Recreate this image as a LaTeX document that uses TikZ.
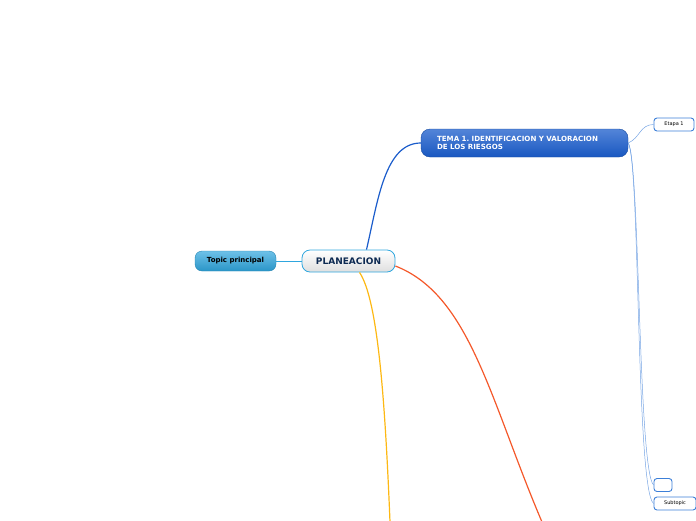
\documentclass[tikz,border=0pt]{standalone}
\usepackage{fontspec}
\setmainfont{DejaVu Sans}
\frenchspacing
\definecolor{mainblue}{HTML}{1A5CCB}
\definecolor{lightblue}{HTML}{2FA6DE}
\definecolor{edgeblue}{HTML}{3C7FD8}
\definecolor{orangeline}{HTML}{F4582A}
\definecolor{yellowline}{HTML}{FDB813}
\definecolor{navytext}{HTML}{0D2A52}
\tikzset{
  centralbox/.style={draw=lightblue, line width=0.8pt, rounded corners=8pt, top color=white, bottom color=gray!25,
    minimum width=93pt, minimum height=22pt, font=\fontsize{9}{10}\selectfont\bfseries, text=navytext},
  mainbox/.style={draw=lightblue!80!black, rounded corners=7pt, top color=lightblue!70, bottom color=lightblue!90!black,
    minimum width=81pt, minimum height=20pt, font=\fontsize{7}{8}\selectfont\bfseries},
  temabox/.style={draw=mainblue!80!black, rounded corners=9pt, top color=mainblue!75, bottom color=mainblue!95!black,
    minimum height=28pt, text=white, font=\fontsize{7.1}{8}\selectfont\bfseries,
    align=left, text width=175pt, inner xsep=16pt},
  subbox/.style={draw=edgeblue, line width=0.9pt, rounded corners=3pt, fill=white,
    minimum height=13pt, font=\fontsize{5}{6}\selectfont, inner sep=1pt},
}
\begin{document}
\begin{tikzpicture}[x=1pt, y=-1pt]
  \useasboundingbox (0,0) rectangle (696,520);

  % Nodes
  \node[centralbox] (plan) at (348.5,261) {PLANEACION};
  \node[mainbox] (topic) at (235.5,261) {Topic principal};
  \node[temabox] (tema) at (524.5,143) {TEMA 1. IDENTIFICACION Y VALORACION\\DE LOS RIESGOS};
  \node[subbox, minimum width=40pt] (etapa) at (674,124.5) {Etapa 1};
  \node[subbox, minimum width=18pt] (empty) at (663,485) {};
  \node[subbox, minimum width=42pt] (subt) at (675,503.5) {Subtopic};

  % Free ends of the open branches
  \coordinate (yend) at (390,522);
  \coordinate (oend) at (542,522);

  % Branches from the central topic
  \draw[lightblue, line width=0.6pt] (topic.east) -- (plan.west);
  \draw[mainblue, line width=1.2pt] ([xshift=18pt]plan.north) .. controls (378,200) and (385,143) .. (tema.west);
  \draw[orangeline, line width=1.2pt] ([yshift=-5pt]plan.east) .. controls (470,295) and (490,400) .. (oend);
  \draw[yellowline, line width=1.2pt] ([xshift=11pt]plan.south) .. controls (378,300) and (385,400) .. (yend);

  % Sub branches of TEMA 1
  \draw[edgeblue!70, line width=0.5pt] (tema.east) .. controls (640,138) and (640,124.5) .. (etapa.west);
  \draw[edgeblue!70, line width=0.5pt] (tema.east) .. controls (640,160) and (638,470) .. (empty.west);
  \draw[edgeblue!70, line width=0.5pt] (tema.east) .. controls (640,160) and (636,490) .. (subt.west);
\end{tikzpicture}
\end{document}
